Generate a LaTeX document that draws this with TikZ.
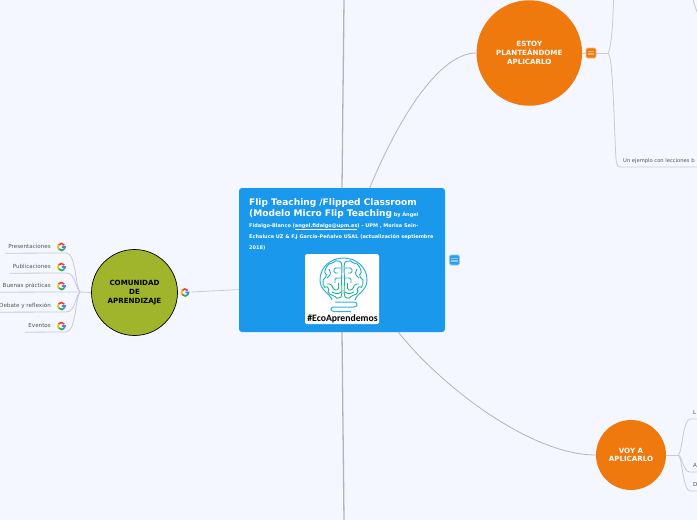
\documentclass[tikz,border=0pt]{standalone}
\usepackage{fontspec}
\setmainfont{DejaVu Sans}
\newfontfamily\ecofont{Carlito}
\definecolor{pagebg}{HTML}{F4F7FF}
\definecolor{rootblue}{HTML}{1A98EC}
\definecolor{iconblue}{HTML}{2B9FE8}
\definecolor{nodeorange}{HTML}{EF790D}
\definecolor{nodegreen}{HTML}{A0B52C}
\definecolor{mainline}{HTML}{B4B5BA}
\definecolor{subline}{HTML}{C9CAD2}
\definecolor{leafgray}{HTML}{55565C}
\definecolor{bulbblue}{HTML}{2FB0EA}
\definecolor{brainteal}{HTML}{22A8C8}
\definecolor{braingreen}{HTML}{1FB58C}
\definecolor{gred}{HTML}{EA4335}
\definecolor{gyellow}{HTML}{FBBC05}
\definecolor{ggreen}{HTML}{34A853}
\definecolor{gblue}{HTML}{4285F4}
\tikzset{
  mainbranch/.style = {mainline, line width=1.3pt},
  curvebranch/.style = {mainline, line width=.8pt},
  subbranch/.style = {subline, line width=.8pt},
  topic/.style = {circle, inner sep=0pt, align=center, font=\fontsize{7.1}{8.6}\selectfont\bfseries},
  leaf/.style = {inner sep=3pt, minimum height=12pt, text height=4pt, text depth=1pt,
    text=leafgray, font=\fontsize{5.6}{6}\selectfont},
  notesbox/.style = {inner sep=0pt, minimum size=10pt, rounded corners=1.5pt, line width=.8pt},
  pics/gicon/.style = {code = {
    \begin{scope}[yscale=-1, line width=1.7pt]
      \draw [gred] (35:3.5) arc (35:145:3.5);
      \draw [gyellow] (145:3.5) arc (145:215:3.5);
      \draw [ggreen] (215:3.5) arc (215:320:3.5);
      \draw [gblue] (320:3.5) arc (320:360:3.5) -- (.3,0);
    \end{scope}
  }},
  pics/noterows/.style = {code = {
    \fill [white, opacity=.45] (-3.2,-2.4) rectangle (3.2,-.6);
    \fill [white, opacity=.45] (-3.2,.4) rectangle (3.2,2.4);
  }}
}
\begin{document}
\begin{tikzpicture}[x=1pt, y=-1pt]
    \useasboundingbox (0,0) rectangle (697,520);
    \fill [pagebg] (0,0) rectangle (697,520);

    \node [fill=rootblue, rounded corners=3pt, minimum width=206pt, minimum height=144pt] (root) at (342,260) {};
    \node [anchor=north west, inner sep=0pt, text=white, align=left, font=\fontsize{5}{11}\selectfont\bfseries] (roottext) at (249,198)
      {{\fontsize{9.05}{11}\selectfont Flip Teaching /Flipped Classroom}\\
       {\fontsize{9.05}{11}\selectfont (Modelo Micro Flip Teaching} by Ángel\\
       Fidalgo-Blanco (\underline{angel.fidalgo@upm.es}) - UPM , Marisa Sein-\\
       Echaluce UZ \& F.J García-Peñalvo USAL (actualización septiembre\\
       2018)};
    \node [fill=white, rounded corners=1.5pt, minimum width=74pt, minimum height=70pt] (logo) at (342,289) {};
    \node [inner sep=0pt, font=\ecofont\fontsize{9.7}{12}\selectfont\bfseries] (logotext) at (342.5,318.5) {\#EcoAprendemos};

    \draw [bulbblue, line width=1pt] (332,300) .. controls (330,293) and (320,291) .. (320,280)
      .. controls (320,267) and (331,258) .. (343.5,258) .. controls (356,258) and (367,267) .. (367,280)
      .. controls (367,291) and (357,293) .. (355,300);
    \draw [bulbblue, line width=1pt] (335,302) -- (354,302) .. controls (358,302) and (358,307) .. (354,307) -- (334,307)
      .. controls (330,307) and (330,311.5) .. (334,311.5) -- (351,311.5);
    \foreach \s in {-1,1} {
      \begin{scope}[shift={(343,0)}, xscale=\s, line width=.9pt, rounded corners=1.5pt]
        \draw [brainteal] plot [smooth] coordinates {(1.5,280) (1.5,264) (6,261) (11,263) (15,265) (18,271) (17,276) (20,280)};
        \draw [brainteal] (1.5,268) -- (9,268) -- (9,273) -- (5,273)
          (14,269) -- (12,274) -- (16,278)
          (1.5,278) -- (8,278) -- (8,283);
        \draw [braingreen] plot [smooth] coordinates {(20,280) (19,286) (15,288) (14,293) (9,296) (5,298) (1.5,295) (1.5,280)};
        \draw [braingreen] (4.5,283) -- (4.5,290) -- (9,290) -- (12,284) -- (16,284)
          (1.5,292) -- (6,294) -- (11,292);
      \end{scope}
    }

    \coordinate (topend) at (344,0);
    \coordinate (bottomend) at (344,520);
    \draw [mainbranch] (root.north) -- (topend);
    \draw [mainbranch] (root.south) -- (bottomend);

    \node [topic, fill=nodeorange, text=white, minimum size=105.5pt] (estoy) at (529.3,53) {ESTOY\\PLANTEÁNDOME\\APLICARLO};
    \node [topic, fill=nodeorange, text=white, minimum size=70pt] (voy) at (631,455) {VOY A\\APLICARLO};
    \node [topic, fill=nodegreen, draw=black, line width=.7pt, minimum size=86pt] (comunidad) at (134.5,292.5) {COMUNIDAD\\DE\\APRENDIZAJE};

    \draw [curvebranch] (root.69) .. controls (400,115) and (440,53) .. (estoy.west);
    \draw [curvebranch] (root.-52) .. controls (440,385) and (530,455) .. (voy.west);

    \coordinate (gcomunidad) at (191,292);
    \pic at (185,292.5) {gicon};
    \draw [subbranch] (gcomunidad) -- (root.196);

    \coordinate (lefthub) at (80,292);
    \draw [subbranch] (comunidad.west) -- (lefthub);
    \foreach \ly/\ca/\name/\lbl in {253/285/pres/Presentaciones, 273/288/pub/Publicaciones,
        292/292/buenas/Buenas prácticas, 312/296/debate/Debate y reflexión, 332/299/eventos/Eventos} {
      \node [leaf, anchor=east] (\name) at (54,\ly-6) {\lbl};
      \pic at (61.5,\ly-6) {gicon};
      \draw [subbranch] (lefthub) .. controls (75,\ca) and (76,\ly) .. (66,\ly) -- (\name.south west);
    }

    \node [notesbox, fill=iconblue, draw=iconblue!55!white] (rootnotes) at (454.5,260) {};
    \pic at (rootnotes) {noterows};
    \node [notesbox, fill=nodeorange, draw=nodeorange!55!white] (estoynotes) at (591,53) {};
    \pic at (estoynotes) {noterows};

    \coordinate (estoyhub) at (608,53);
    \coordinate (estoytop) at (613.5,0);
    \coordinate (upperright) at (693,0);
    \coordinate (upperrightend) at (697,12);
    \draw [subbranch] (estoy.east) -- (estoynotes.west);
    \draw [subbranch] (estoynotes.east) -- (estoyhub);
    \draw [subbranch] (estoyhub) .. controls (611,50) and (613,25) .. (estoytop);
    \draw [subbranch] (upperright) -- (upperrightend);
    \node [leaf, anchor=south west, font=\fontsize{5.2}{6}\selectfont] (ejemplo) at (620,167) {Un ejemplo con lecciones b};
    \coordinate (ejemploend) at (697,167);
    \draw [subbranch] (estoyhub) .. controls (612,56) and (613,90) .. (615.5,150)
      .. controls (616,160) and (616,167) .. (ejemplo.south west) -- (ejemploend);

    \coordinate (voyhub) at (678,455);
    \draw [subbranch] (voy.east) -- (voyhub);
    \foreach \ly/\name/\lbl in {419/lfirst/L, 472/asecond/A, 491/dthird/D} {
      \node [leaf, anchor=south west] (\name) at (690,\ly) {\lbl};
      \coordinate (\name end) at (697,\ly);
      \draw [subbranch] (voyhub) .. controls (682,455) and (683,\ly) .. (\name.south west) -- (\name end);
    }
  \end{tikzpicture}
\end{document}
